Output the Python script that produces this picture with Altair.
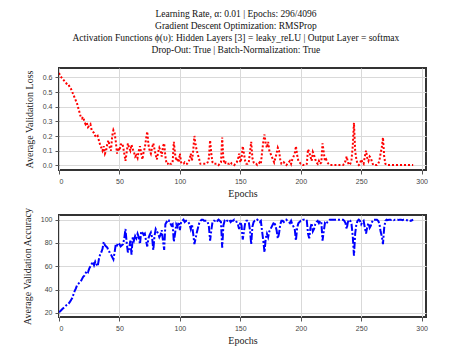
import altair as alt
import pandas as pd

loss = [
    0.63, 0.61, 0.60, 0.59, 0.58, 0.57, 0.56, 0.55, 0.55, 0.53, 0.52,
    0.50, 0.48, 0.46, 0.44, 0.42, 0.39, 0.36, 0.33, 0.32, 0.33,
    0.30, 0.28, 0.29, 0.26, 0.27, 0.28, 0.24, 0.23, 0.22, 0.20,
    0.19, 0.20, 0.17, 0.14, 0.12, 0.10, 0.13, 0.08, 0.10, 0.15,
    0.17, 0.12, 0.10, 0.20, 0.24, 0.22, 0.16, 0.08, 0.12, 0.10,
    0.14, 0.15, 0.13, 0.08, 0.03, 0.09, 0.15, 0.12, 0.10, 0.14,
    0.11, 0.09, 0.06, 0.07, 0.05, 0.10, 0.13, 0.08, 0.04, 0.09,
    0.12, 0.18, 0.23, 0.14, 0.10, 0.08, 0.12, 0.15, 0.11, 0.07,
    0.04, 0.09, 0.12, 0.10, 0.06, 0.13, 0.15, 0.06, 0.01, 0.01,
    0.02, 0.01, 0.01, 0.02, 0.16, 0.08, 0.03, 0.05, 0.02, 0.08,
    0.02, 0.01, 0.01, 0.02, 0.01, 0.01, 0.02, 0.04, 0.08, 0.03,
    0.10, 0.20, 0.14, 0.10, 0.07, 0.04, 0.01, 0.01, 0.01, 0.01,
    0.01, 0.01, 0.02, 0.05, 0.17, 0.08, 0.02, 0.01, 0.01, 0.01,
    0.01, 0.002, 0.01, 0.02, 0.19, 0.04, 0.01, 0.02, 0.01, 0.01,
    0.01, 0.02, 0.01, 0.01, 0.002, 0.01, 0.02, 0.04, 0.08, 0.02,
    0.05, 0.13, 0.08, 0.03, 0.01, 0.01, 0.02, 0.09, 0.16, 0.05,
    0.02, 0.01, 0.01, 0.002, 0.01, 0.02, 0.01, 0.09, 0.16, 0.21,
    0.15, 0.12, 0.16, 0.10, 0.08, 0.06, 0.04, 0.02, 0.05, 0.08,
    0.12, 0.10, 0.04, 0.01, 0.01, 0.02, 0.01, 0.002, 0.01, 0.02,
    0.03, 0.01, 0.04, 0.06, 0.08, 0.13, 0.07, 0.03, 0.02, 0.01,
    0.01, 0.002, 0.002, 0.01, 0.01, 0.11, 0.09, 0.06, 0.03, 0.09,
    0.07, 0.04, 0.02, 0.01, 0.03, 0.01, 0.02, 0.15, 0.09, 0.03,
    0.04, 0.02, 0.01, 0.002, 0.002, 0.002, 0.002, 0.002, 0.002, 0.002,
    0.002, 0.002, 0.002, 0.002, 0.002, 0.01, 0.03, 0.06, 0.02, 0.002,
    0.01, 0.04, 0.13, 0.29, 0.10, 0.04, 0.01, 0.002, 0.01, 0.04,
    0.02, 0.01, 0.06, 0.10, 0.05, 0.03, 0.06, 0.05, 0.02, 0.002,
    0.002, 0.002, 0.002, 0.01, 0.03, 0.08, 0.12, 0.19, 0.06, 0.01,
    0.002, 0.002, 0.002, 0.002, 0.002, 0.002, 0.002, 0.002, 0.002, 0.002,
    0.002, 0.002, 0.002, 0.002, 0.002, 0.002, 0.002, 0.002, 0.002, 0.002,
    0.002, 0.002, 0.002,
]

accuracy = [
    20.5, 21.5, 22.5, 23.5, 24.5, 25.5, 26.5, 27, 28, 29.5, 31,
    33, 36, 39, 41, 44, 45, 46, 47, 49, 51,
    52, 54, 56, 55, 58, 60, 62, 64, 61, 64,
    62, 60, 66, 70, 72, 75, 81, 78, 77, 76,
    73, 72, 70, 68, 66, 72, 79, 78, 80, 79,
    77, 78, 79, 84, 92, 80, 72, 75, 82, 70,
    85, 82, 86, 84, 88, 85, 79, 90, 89, 87,
    88, 82, 77, 84, 87, 89, 85, 74, 86, 92,
    90, 88, 85, 87, 91, 82, 74, 96, 98, 97,
    99, 97, 95, 96, 81, 88, 96, 94, 98, 91,
    98, 99, 100, 98, 99, 99, 98, 96, 92, 96,
    88, 79, 84, 89, 93, 97, 99, 100, 100, 99,
    99, 99, 98, 94, 82, 91, 98, 99, 99, 100,
    99, 100, 99, 98, 76, 95, 99, 98, 99, 99,
    100, 98, 99, 99, 100, 99, 98, 96, 92, 98,
    95, 83, 90, 97, 99, 99, 98, 91, 79, 94,
    98, 99, 99, 100, 99, 98, 99, 90, 82, 72,
    84, 88, 85, 90, 92, 94, 96, 98, 95, 91,
    84, 88, 96, 99, 99, 98, 99, 100, 99, 98,
    97, 99, 96, 94, 92, 82, 93, 97, 98, 99,
    99, 100, 100, 99, 99, 88, 84, 93, 97, 90,
    92, 96, 98, 99, 97, 99, 98, 82, 90, 97,
    96, 98, 99, 100, 100, 100, 100, 100, 100, 100,
    100, 100, 100, 100, 100, 99, 97, 92, 98, 100,
    99, 96, 86, 69, 88, 96, 99, 100, 99, 96,
    98, 99, 93, 88, 94, 97, 93, 95, 98, 100,
    100, 100, 100, 99, 97, 90, 86, 79, 93, 99,
    100, 99.5, 100, 100, 99.8, 100, 99.5, 100, 100, 100,
    99.7, 100, 100, 99.6, 100, 100, 99.8, 99.5, 99, 99.5,
    99, 99.5, 100,
]

epochs = list(range(len(loss)))

title_lines = [
    "Learning Rate, \u03b1: 0.01  |  Epochs: 296/4096",
    "Gradient Descent Optimization: RMSProp",
    "Activation Functions \u03d5(\u03c5): Hidden Layers [3] = leaky_reLU  |  Output Layer = softmax",
    "Drop-Out: True  |  Batch-Normalization: True",
]

x_ticks = [0, 50, 100, 150, 200, 250, 300]
loss_ticks = [0.0, 0.1, 0.2, 0.3, 0.4, 0.5, 0.6]
acc_ticks = [20, 40, 60, 80, 100]

df = pd.DataFrame({"epoch": epochs, "loss": loss, "accuracy": accuracy})

x_enc = alt.X(
    "epoch:Q",
    scale=alt.Scale(domain=[0, 303.6], nice=False, zero=False),
    axis=alt.Axis(values=x_ticks, title="Epochs"),
)

top = alt.Chart(df).mark_line(
    color="#ff0000", strokeWidth=2, strokeDash=[2, 2], clip=True
).encode(
    x=x_enc,
    y=alt.Y(
        "loss:Q",
        scale=alt.Scale(domain=[-0.032, 0.664], nice=False, zero=False),
        axis=alt.Axis(values=loss_ticks, format=".1f", title="Average Validation Loss"),
    ),
).properties(width=367, height=102)

bottom = alt.Chart(df).mark_line(
    color="#0000ff", strokeWidth=2, strokeDash=[7, 2, 2, 2], clip=True
).encode(
    x=x_enc,
    y=alt.Y(
        "accuracy:Q",
        scale=alt.Scale(domain=[16.5, 104], nice=False, zero=False),
        axis=alt.Axis(values=acc_ticks, format="d", title="Average Validation Accuracy"),
    ),
).properties(width=367, height=102)

chart = alt.vconcat(top, bottom, spacing=7).properties(
    title=alt.TitleParams(
        text=title_lines,
        font="Liberation Serif",
        fontSize=9.5,
        fontWeight="normal",
        lineHeight=12,
        anchor="middle",
        color="#111111",
        offset=13,
        dx=11,
    ),
    padding={"left": 21, "top": 8, "right": 5, "bottom": 5},
    background="white",
).configure_view(
    stroke="#333333", strokeWidth=2
).configure_axis(
    grid=True,
    gridColor="#d9d9d9",
    gridWidth=1,
    domain=False,
    ticks=True,
    tickColor="#555555",
    tickSize=4,
    labelPadding=3,
    labelFont="Liberation Sans",
    labelFontSize=7,
    labelColor="#444444",
    titleFont="Liberation Serif",
    titleFontSize=10,
    titleFontWeight="normal",
    titleColor="#222222",
).configure_axisX(
    titlePadding=4
).configure_axisY(
    titlePadding=8
)

chart.save("out.html", embed_options={"renderer": "svg", "actions": False})
